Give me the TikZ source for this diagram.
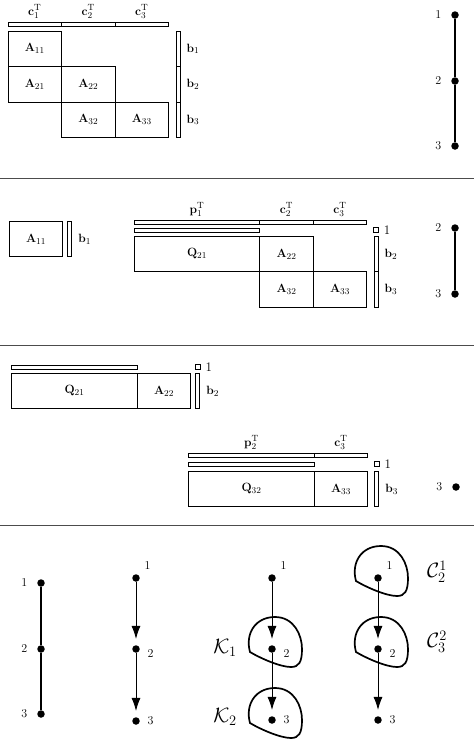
\documentclass[tikz,border=0pt]{standalone}
\usepackage{amsmath}
\usepackage{tikz}
\usetikzlibrary{arrows.meta,positioning}

\begin{document}
\begin{tikzpicture}[x=1pt, y=-1pt, >={Latex[length=13pt,width=9pt]}, semithick, font=\fontsize{13}{15}\selectfont]

    \tikzstyle{blk} = [rectangle, draw=black, line width=1pt, inner sep=0pt, outer sep=0pt, minimum width=53.5pt, minimum height=35.5pt]
    \tikzstyle{wide} = [blk, minimum width=125.5pt]
    \tikzstyle{hbar} = [rectangle, draw=black, line width=1pt, inner sep=0pt, outer sep=0pt, minimum height=4pt]
    \tikzstyle{vbar} = [rectangle, draw=black, line width=1pt, inner sep=0pt, outer sep=0pt, minimum width=4pt, minimum height=35.5pt]
    \tikzstyle{sq} = [rectangle, draw=black, line width=1pt, inner sep=0pt, outer sep=0pt, minimum size=4.5pt]
    \tikzstyle{vtx} = [circle, fill=black, inner sep=0pt, minimum size=7.5pt]
    \tikzstyle{tree} = [line width=2pt]
    \tikzstyle{dep} = [->, line width=0.9pt, shorten >=6pt]
    \tikzstyle{blob} = [line width=1.7pt]
    \tikzstyle{sep} = [line width=0.8pt, black!70]
    \tikzstyle{every label} = [font=\large]

    \tikzset{pics/blob/.style={code={
        \draw[blob] (-22,3) .. controls (-27,-15) and (-17,-32) .. (3,-32)
            .. controls (22,-32) and (30,-14) .. (30,0)
            .. controls (30,13) and (27,18) .. (19,18)
            .. controls (8,18) and (-12,9) .. cycle;}}}

    \useasboundingbox (0,0) rectangle (474,745);

    % first block: full system
    \node (c1)  [hbar, minimum width=53.5pt]       at (34.75,24)   {};
    \node (c2)  [hbar, minimum width=53.5pt, right=0pt of c1]      {};
    \node (c3)  [hbar, minimum width=53.5pt, right=0pt of c2]      {};
    \node (lc1) [above=0pt of c1]   {$\mathbf{c}_1^{\mathrm{T}}$};
    \node (lc2) [above=0pt of c2]   {$\mathbf{c}_2^{\mathrm{T}}$};
    \node (lc3) [above=0pt of c3]   {$\mathbf{c}_3^{\mathrm{T}}$};

    \node (A11) [blk]                  at (34.75,48.75) {$\mathbf{A}_{11}$};
    \node (A21) [blk, below=0pt of A11]  {$\mathbf{A}_{21}$};
    \node (A22) [blk, right=0pt of A21]  {$\mathbf{A}_{22}$};
    \node (A32) [blk, below=0pt of A22]  {$\mathbf{A}_{32}$};
    \node (A33) [blk, right=0pt of A32]  {$\mathbf{A}_{33}$};

    \node (b1)  [vbar]                 at (178,48.75) {};
    \node (b2)  [vbar, below=0pt of b1]  {};
    \node (b3)  [vbar, below=0pt of b2]  {};
    \node (lb1) [right=3pt of b1]  {$\mathbf{b}_1$};
    \node (lb2) [right=3pt of b2]  {$\mathbf{b}_2$};
    \node (lb3) [right=3pt of b3]  {$\mathbf{b}_3$};

    \node (t1)  [vtx, label={[label distance=6pt]left:1}]  at (455,15)  {};
    \node (t2)  [vtx, label={[label distance=6pt]left:2}]  at (455,81)  {};
    \node (t3)  [vtx, label={[label distance=6pt]left:3}]  at (455,146) {};
    \path[tree]  (t1)  edge  (t2)  (t2)  edge  (t3);

    \draw[sep] (0,178) -- (474,178);

    % second block: first elimination
    \node (B11)  [blk]                  at (36,239) {$\mathbf{A}_{11}$};
    \node (bb1)  [vbar, right=5pt of B11]  {};
    \node (lbb1) [right=3pt of bb1]  {$\mathbf{b}_1$};

    \node (Q21) [wide]                    at (197,254) {$\mathbf{Q}_{21}$};
    \node (D22) [blk, right=0pt of Q21]     {$\mathbf{A}_{22}$};
    \node (D32) [blk, below=0pt of D22]     {$\mathbf{A}_{32}$};
    \node (D33) [blk, right=0pt of D32]     {$\mathbf{A}_{33}$};

    \node (q1)  [hbar, minimum width=125.5pt, above=4pt of Q21]  {};
    \node (p1)  [hbar, minimum width=125.5pt, above=4pt of q1]   {};
    \node (pc2) [hbar, minimum width=53.5pt, right=0pt of p1]    {};
    \node (pc3) [hbar, minimum width=53.5pt, right=0pt of pc2]   {};
    \node (lp1)  [above=0pt of p1]   {$\mathbf{p}_1^{\mathrm{T}}$};
    \node (lpc2) [above=0pt of pc2]  {$\mathbf{c}_2^{\mathrm{T}}$};
    \node (lpc3) [above=0pt of pc3]  {$\mathbf{c}_3^{\mathrm{T}}$};

    \node (bq2)  [vbar]                at (376,254) {};
    \node (bq3)  [vbar, below=0pt of bq2]  {};
    \node (sq1)  [sq, above=4pt of bq2]    {};
    \node (lsq1) [right=2pt of sq1]  {1};
    \node (lbq2) [right=3pt of bq2]  {$\mathbf{b}_2$};
    \node (lbq3) [right=3pt of bq3]  {$\mathbf{b}_3$};

    \node (s2)  [vtx, label={[label distance=6pt]left:2}]  at (455,228) {};
    \node (s3)  [vtx, label={[label distance=6pt]left:3}]  at (455,294) {};
    \path[tree]  (s2)  edge  (s3);

    \draw[sep] (0,345) -- (474,345);

    % third block: second elimination
    \node (R21)  [wide]                  at (74.5,391) {$\mathbf{Q}_{21}$};
    \node (R22)  [blk, right=0pt of R21]   {$\mathbf{A}_{22}$};
    \node (r1)   [hbar, minimum width=125.5pt, above=4pt of R21]  {};
    \node (rb2)  [vbar, right=5pt of R22]  {};
    \node (rsq)  [sq, above=4pt of rb2]    {};
    \node (lrsq) [right=2pt of rsq]  {1};
    \node (lrb2) [right=3pt of rb2]  {$\mathbf{b}_2$};

    \node (S32)  [wide]                  at (251.5,489) {$\mathbf{Q}_{32}$};
    \node (S33)  [blk, right=0pt of S32]   {$\mathbf{A}_{33}$};
    \node (s1)   [hbar, minimum width=125.5pt, above=5pt of S32]  {};
    \node (p2)   [hbar, minimum width=125.5pt, above=5pt of s1]   {};
    \node (pc3b) [hbar, minimum width=53.5pt, right=0pt of p2]    {};
    \node (lp2)  [above=0pt of p2]    {$\mathbf{p}_2^{\mathrm{T}}$};
    \node (lpc3b) [above=0pt of pc3b] {$\mathbf{c}_3^{\mathrm{T}}$};

    \node (sb3)  [vbar, right=7pt of S33]  {};
    \node (ssq)  [sq, above=5pt of sb3]    {};
    \node (lssq) [right=2pt of ssq]  {1};
    \node (lsb3) [right=3pt of sb3]  {$\mathbf{b}_3$};

    \node (u3)  [vtx, label={[label distance=6pt]left:3}]  at (456,487) {};

    \draw[sep] (0,525) -- (474,525);

    % fourth block: trees and cliques
    \node (ga1) [vtx, label={[label distance=6pt]left:1}]  at (41,583) {};
    \node (ga2) [vtx, label={[label distance=6pt]left:2}]  at (41,649) {};
    \node (ga3) [vtx, label={[label distance=6pt]left:3}]  at (41,714) {};
    \path[tree]  (ga1)  edge  (ga2)  (ga2)  edge  (ga3);

    \node (gb1) [vtx, label={[label distance=3pt]above right:1}]          at (136,578) {};
    \node (gb2) [vtx, label={[label distance=4pt, yshift=-5pt]right:2}]   at (136,649) {};
    \node (gb3) [vtx, label={[label distance=4pt]right:3}]                at (136,721) {};
    \path[dep]  (gb1)  edge  (gb2)  (gb2)  edge  (gb3);

    \node (gc1) [vtx, label={[label distance=3pt]above right:1}]          at (272,578) {};
    \node (gc2) [vtx, label={[label distance=4pt, yshift=-5pt]right:2}]   at (272,649) {};
    \node (gc3) [vtx, label={[label distance=4pt]right:3}]                at (272,720) {};
    \path[dep]  (gc1)  edge  (gc2)  (gc2)  edge  (gc3);
    \pic at (gc2) {blob};
    \pic at (gc3) {blob};
    \node (K1) at (225,648)  {\huge $\mathcal{K}_1$};
    \node (K2) at (225,717)  {\huge $\mathcal{K}_2$};

    \node (gd1) [vtx, label={[label distance=3pt]above right:1}]          at (378,578) {};
    \node (gd2) [vtx, label={[label distance=4pt, yshift=-5pt]right:2}]   at (378,649) {};
    \node (gd3) [vtx, label={[label distance=4pt]right:3}]                at (378,720) {};
    \path[dep]  (gd1)  edge  (gd2)  (gd2)  edge  (gd3);
    \pic at (gd1) {blob};
    \pic at (gd2) {blob};
    \node (C1) at (437,572)  {\huge $\mathcal{C}_2^1$};
    \node (C2) at (437,642)  {\huge $\mathcal{C}_3^2$};
\end{tikzpicture}
\end{document}
